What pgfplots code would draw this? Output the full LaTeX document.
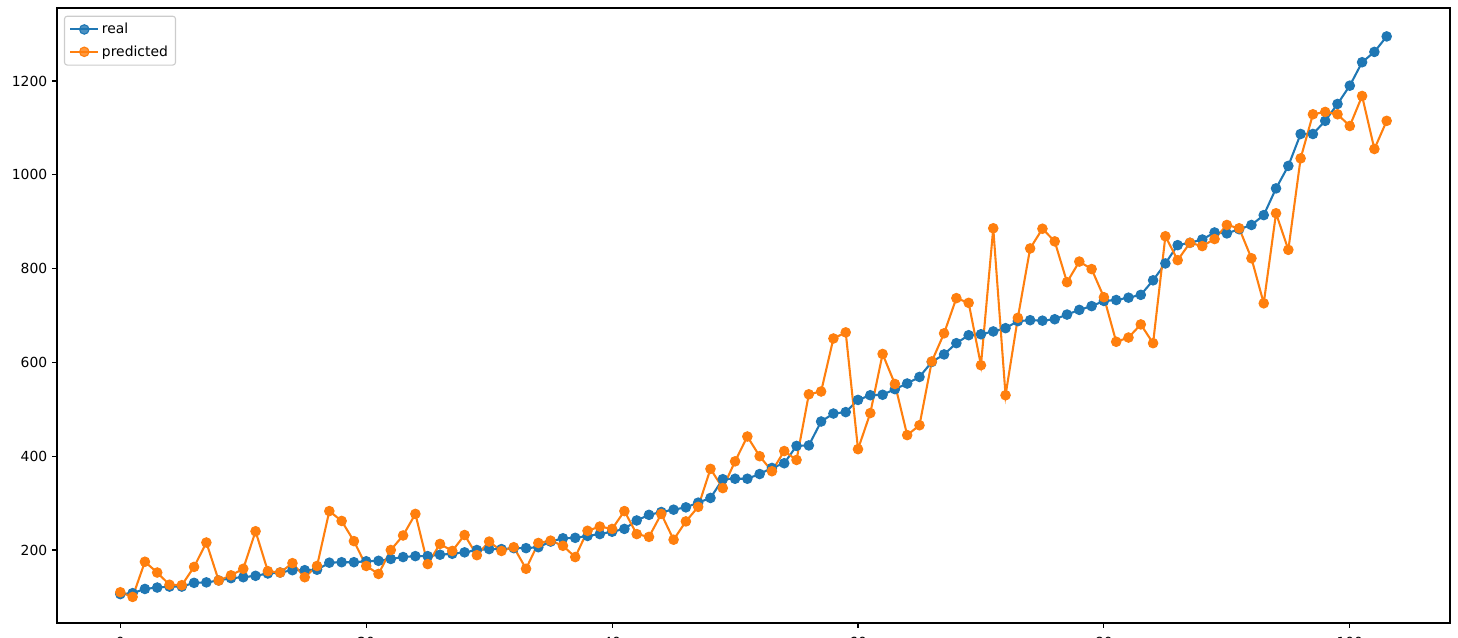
\documentclass[border=0pt]{standalone}
\usepackage{fontspec}
\setmainfont{DejaVu Sans}
\usepackage{pgfplots}
\usepackage{pgfplotstable}
\pgfplotsset{compat=1.18}
\definecolor{tabblue}{HTML}{1F77B4}
\definecolor{taborange}{HTML}{FF7F0E}
\definecolor{leggray}{HTML}{CCCCCC}
\pgfplotstableread{
i real pred
0 106 110
1 108 100
2 117 175
3 120 152
4 122 126
5 122 125
6 130 164
7 131 216
8 135 135
9 140 146
10 142 160
11 145 240
12 150 155
13 152 152
14 157 172
15 157 142
16 158 166
17 173 283
18 174 262
19 174 219
20 176 166
21 177 149
22 181 200
23 185 231
24 187 277
25 187 170
26 190 213
27 192 198
28 195 232
29 200 189
30 202 218
31 202 198
32 204 206
33 204 160
34 206 215
35 218 220
36 225 209
37 226 185
38 230 241
39 234 250
40 239 245
41 245 283
42 263 234
43 275 228
44 281 277
45 286 222
46 291 261
47 301 292
48 311 373
49 351 332
50 352 389
51 352 442
52 362 400
53 375 368
54 385 411
55 422 392
56 423 532
57 474 538
58 491 651
59 494 664
60 520 415
61 530 492
62 531 618
63 543 554
64 555 445
65 569 466
66 601 602
67 617 662
68 641 737
69 658 727
70 660 594
71 666 886
72 673 530
73 688 695
74 690 843
75 689 885
76 692 858
77 702 771
78 712 815
79 720 799
80 731 739
81 733 644
82 738 653
83 744 681
84 775 641
85 811 869
86 850 818
87 855 855
88 862 848
89 877 863
90 875 893
91 884 886
92 893 822
93 914 726
94 971 918
95 1019 840
96 1087 1035
97 1087 1129
98 1115 1134
99 1151 1129
100 1190 1104
101 1240 1168
102 1262 1055
103 1295 1115
}\datatable
\begin{document}
\begin{tikzpicture}
\useasboundingbox (-41.04pt,-10.08pt) rectangle (1008.72pt,448.56pt);
\begin{axis}[
  scale only axis,
  width=1002.96pt, height=442.8pt,
  xmin=-5.15, xmax=108.15,
  ymin=44.4, ymax=1355.6,
  xtick={0,20,40,60,80,100},
  ytick={200,400,600,800,1000,1200},
  tick align=outside,
  major tick length=3.5pt,
  every tick/.style={black, line width=0.8pt},
  axis line style={black, line width=0.8pt},
  tick label style={font=\fontsize{10}{12}\selectfont},
  x tick label style={yshift=-3pt},
  /pgf/number format/assume math mode=true,
  /pgf/number format/1000 sep={},
  xtick pos=bottom, ytick pos=left,
  legend cell align=left,
  legend style={at={(0,1)}, anchor=north west, xshift=5pt, yshift=-5.5pt,
    draw=leggray, line width=0.8pt, rounded corners=2pt, fill=white, fill opacity=0.8, text opacity=1,
    font=\fontsize{10}{12}\selectfont, inner xsep=3.5pt, inner ysep=3pt, row sep=3pt},
  legend image code/.code={\draw[mark repeat=2,mark phase=2,#1] plot coordinates {(0pt,0pt) (10pt,0pt) (20pt,0pt)};},
]
\addplot[tabblue, line width=1.5pt, mark=*, mark size=3.4pt, mark options={solid, line width=0.8pt, fill=tabblue, draw=tabblue}] table[x=i, y=real] {\datatable};
\addlegendentry{real}
\addplot[taborange, line width=1.5pt, mark=*, mark size=3.4pt, mark options={solid, line width=0.8pt, fill=taborange, draw=taborange}] table[x=i, y=pred] {\datatable};
\addlegendentry{predicted}
\end{axis}
\end{tikzpicture}
\end{document}
